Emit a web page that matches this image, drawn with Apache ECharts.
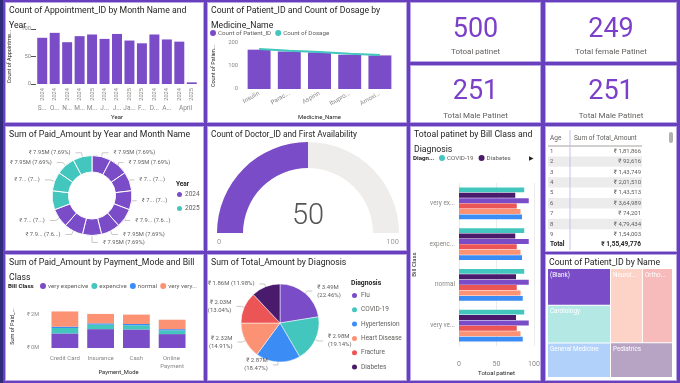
<!DOCTYPE html>
<html><head><meta charset="utf-8">
<script src="https://cdn.jsdelivr.net/npm/echarts@6/dist/echarts.min.js"></script>
<style>
html,body{margin:0;padding:0;width:680px;height:383px;overflow:hidden;background:#6840bd;}
.p{position:absolute;background:#fff;box-shadow:inset 0 0 0 1px #b9a6e4;}
</style></head><body>
<div style="position:absolute;left:0;top:0;width:3px;height:383px;background:#2f2c7c"></div>
<script>
// ---------- DATA ----------
const apptYears = ['2024','2024','2024','2024','2025','2024','2024','2025','2025','2024','2024','2024','2025'];
const apptCounts = [84,93,76,87,90,82,91,79,74,90,81,77,3];
const apptMonthLabels = ['S...','O...','N...','M...','M...','J...','J...','Ja...','F...','D...','A...','April'];
const apptMonthSpans = [1,1,1,1,1,1,1,1,1,1,1,2];

const medicines = ['Insulin','Paracetamol','Aspirin','Ibuprofen','Amoxicillin'];
const medPatients = [171,163,159,149,146];
const medDosage = [174,166,161,153,148];

const kpiValues = [500,249,251,251];
const kpiLabels = ['Totoal patinet','Total female Patinet','Total Male Patinet','Total Male Patinet'];

const paidMonths = ['September','October','November','March','June','July','December','August','April','May','January','February','April'];
const paidYears = ['2024','2024','2024','2024','2024','2024','2024','2024','2024','2025','2025','2025','2025'];
const paidAmounts = [7950000,7950000,7950000,7950000,7950000,7950000,7950000,7950000,7950000,7950000,7950000,7950000,7950000];

const doctorCount = 50;
const doctorMax = 100;

const billClasses = ['very expencive','expencive','normal','very very expencive'];
const diagOrder = ['COVID-19','Diabetes','Flu','Fracture','Heart Disease','Hypertension'];
const billCovid = [87,87,87,87];
const billDiabetes = [75,75,76,76];
const billFlu = [93,93,93,93];
const billFracture = [77,77,77,77];
const billHeart = [82,82,82,82];
const billHyper = [84,84,85,85];

const ages = ['1','2','3','4','5','6','7','8','9'];
const ageAmounts = [181866,92616,143749,201510,143513,364989,74201,479434,154003];
const ageTotal = 15549776;

const payModes = ['Credit Card','Insurance','Cash','Online Payment'];
const payClasses = ['very expencive','expencive','normal','very very expencive'];
const payVeryExp = [880000,1140000,1120000,840000];
const payExp = [330000,270000,250000,220000];
const payNormal = [80000,80000,80000,80000];
const payVeryVery = [920000,570000,570000,570000];

const diagNames = ['Flu','COVID-19','Hypertension','Heart Disease','Fracture','Diabetes'];
const diagAmounts = [3492480,2976227,2872044,2318472,2027691,1862863];

const deptNames = ['(Blank)','Cardiology','General Medicine','Neurology','Orthopedics','Pediatrics'];
const deptCounts = [85,87,80,87,82,79];

// ---------- STYLE ----------
const FONT = 'Roboto, "Noto Sans", sans-serif';
const PURPLE='#7a4cc7', TEAL='#43c6bd', BLUE='#3b8df5', SALMON='#fb9274', RED='#ec5555', DARK='#4a1a6c';
const TXT='#252423', SUB='#605e5c', AX='#8a8886';
const diagColor = {'COVID-19':TEAL,'Diabetes':DARK,'Flu':PURPLE,'Fracture':RED,'Heart Disease':SALMON,'Hypertension':BLUE};
const yearColor = {'2024':PURPLE,'2025':TEAL};
const numFmt = function(v){return String(v);};

function mk(x,y,w,h){const d=document.createElement('div');d.className='p';Object.assign(d.style,{left:x+'px',top:y+'px',width:w+'px',height:h+'px'});document.body.appendChild(d);return echarts.init(d,null,{width:w,height:h});}
function ttl(text,size){return {text:text,left:4,top:1,padding:0,textStyle:{fontFamily:FONT,fontSize:size||8.7,color:TXT,fontWeight:'normal',lineHeight:15}};}
function inr(n){const s=String(Math.round(n));if(s.length<=3)return s;const last3=s.slice(-3);let rest=s.slice(0,-3);const parts=[];while(rest.length>2){parts.unshift(rest.slice(-2));rest=rest.slice(0,-2);}if(rest)parts.unshift(rest);return parts.join(',')+','+last3;}
function mfmt(v){return (v/1e6).toFixed(2)+'M';}
function sum(a){let s=0;a.forEach(function(v){s+=v;});return s;}
const base = {animation:false,textStyle:{fontFamily:FONT}};

// ---------- P1 appointments ----------
(function(){
  const c = mk(5,2,199,121);
  const centers=[];let acc=0;apptMonthSpans.forEach(s=>{centers.push(acc+s/2);acc+=s;});
  c.setOption(Object.assign({},base,{
    title:ttl('Count of Appointment_ID by Month Name and\nYear'),
    grid:{left:31,right:6,top:27,bottom:39,outerBoundsMode:'none'},
    xAxis:[{type:'category',data:apptYears,axisLine:{show:false},axisTick:{show:false},
      axisLabel:{rotate:90,fontSize:5.7,color:AX,margin:4,interval:0},
      name:'Year',nameLocation:'middle',nameGap:30,nameMoveOverlap:false,nameTextStyle:{fontSize:6,color:TXT}},
     {type:'value',position:'bottom',offset:19,min:0,max:apptCounts.length,interval:0.5,
      axisLine:{show:false},axisTick:{show:false},splitLine:{show:false},
      axisLabel:{fontSize:6.5,color:AX,margin:2,showMinLabel:true,showMaxLabel:true,
        formatter:function(v){for(let i=0;i<centers.length;i++){if(Math.abs(centers[i]-v)<1e-6)return apptMonthLabels[i];}return '';}}}],
    yAxis:{type:'value',min:0,max:100,interval:50,splitLine:{show:false},axisLine:{show:false},
      axisLabel:{fontSize:5.8,color:AX,margin:5,showMinLabel:true,showMaxLabel:true,formatter:numFmt},
      name:'Count of Appointment_ID',nameLocation:'middle',nameGap:23,nameRotate:90,nameMoveOverlap:false,
      nameTruncate:{maxWidth:55,ellipsis:'...'},nameTextStyle:{fontSize:5.5,color:TXT}},
    series:[{type:'bar',data:apptCounts,barCategoryGap:'20%',itemStyle:{color:PURPLE}}]
  }));
})();

// ---------- P2 medicines ----------
(function(){
  const c = mk(207,2,200,121);
  c.setOption(Object.assign({},base,{
    title:ttl('Count of Patient_ID and Count of Dosage by\nMedicine_Name'),
    legend:{left:3,top:28,padding:0,icon:'circle',itemWidth:6,itemHeight:6,itemGap:4,
      textStyle:{fontSize:6.2,color:SUB,padding:[0,0,0,-3]},data:['Count of Patient_ID','Count of Dosage']},
    grid:{left:37,right:12,top:41,bottom:34,outerBoundsMode:'none'},
    xAxis:{type:'category',data:medicines,axisLine:{show:false},axisTick:{show:false},
      axisLabel:{rotate:30,fontSize:6.2,color:AX,margin:4,interval:0,width:24,overflow:'truncate',ellipsis:'...'},
      name:'Medicine_Name',nameLocation:'middle',nameGap:25,nameMoveOverlap:false,nameTextStyle:{fontSize:6,color:TXT}},
    yAxis:{type:'value',min:0,max:200,interval:100,splitLine:{show:false},
      axisLabel:{fontSize:5.8,color:AX,margin:6,showMinLabel:true,showMaxLabel:true,formatter:numFmt},
      name:'Count of Patient_ID',nameLocation:'middle',nameGap:27,nameRotate:90,nameMoveOverlap:false,
      nameTruncate:{maxWidth:44,ellipsis:'...'},nameTextStyle:{fontSize:5.5,color:TXT}},
    series:[
      {name:'Count of Patient_ID',type:'bar',data:medPatients,barCategoryGap:'24%',itemStyle:{color:PURPLE}},
      {name:'Count of Dosage',type:'line',data:medDosage,symbol:'none',lineStyle:{color:TEAL,width:2},itemStyle:{color:TEAL},z:5}
    ]
  }));
})();

// ---------- KPI cards ----------
(function(){
  const pos=[[410,2,131,60,15,46],[545,2,132,60,15,46],[410,65,131,58,14,47],[545,65,132,58,14,47]];
  pos.forEach(function(p,i){
    const c = mk(p[0],p[1],p[2],p[3]);
    c.setOption(Object.assign({},base,{
      title:[{text:String(kpiValues[i]),left:'center',top:p[4],padding:0,textStyle:{fontFamily:FONT,fontSize:27,color:'#7b3fc9',fontWeight:'normal'}},
             {text:kpiLabels[i],left:'center',top:p[5],padding:0,textStyle:{fontFamily:FONT,fontSize:8,color:SUB,fontWeight:'normal'}}]
    }));
  });
})();

// ---------- P3 donut ----------
(function(){
  const c = mk(5,126,199,125);
  const fit=[0,0,1,1,2,0,0,2,1,-1,1,0,0];
  const total=sum(paidAmounts);
  c.setOption(Object.assign({},base,{
    title:[ttl('Sum of Paid_Amount by Year and Month Name'),
      {text:'Year',left:171,top:55,padding:0,textStyle:{fontSize:6.5,color:TXT,fontWeight:'bold'}}],
    legend:{orient:'vertical',left:170,top:64,padding:0,icon:'circle',itemWidth:7,itemHeight:7,itemGap:5,
      data:['2024','2025'],textStyle:{fontSize:6.5,color:SUB,padding:[0,0,0,-3]}},
    series:[{type:'pie',center:[87,69.5],radius:[23.5,40],startAngle:90,clockwise:true,
      itemStyle:{borderColor:'#fff',borderWidth:1},
      labelLine:{length:4,length2:6,lineStyle:{color:'#b3b0ad',width:0.7}},
      label:{fontSize:5.8,color:SUB,overflow:'none',formatter:function(p){
        const v=mfmt(p.value),pc=(p.value/total*100).toFixed(2)+'%';const f=fit[p.dataIndex];
        if(f===1)return '₹ '+v.slice(0,1)+'... ('+pc.slice(0,1)+'...)';
        if(f===2)return '₹ '+v.slice(0,3)+'... ('+pc.slice(0,3)+'...)';
        return '₹ '+v+' ('+pc+')';}},
      data:paidAmounts.map(function(v,i){return {name:paidYears[i],value:v,month:paidMonths[i],
        itemStyle:{color:yearColor[paidYears[i]]},
        label:{show:fit[i]>=0},labelLine:{show:fit[i]>=0}};})
    }]
  }));
})();

// ---------- P4 gauge ----------
(function(){
  const c = mk(207,126,200,125);
  const common={type:'gauge',center:[101,107],radius:91,startAngle:180,endAngle:0,min:0,max:doctorMax,
      pointer:{show:false},anchor:{show:false},axisTick:{show:false},splitLine:{show:false,length:0,distance:0},title:{show:false}};
  c.setOption(Object.assign({},base,{
    title:ttl('Count of Doctor_ID and First Availability',8.3),
    series:[Object.assign({},common,{splitNumber:1,
      axisLine:{lineStyle:{width:26,color:[[1,'#efedeb']]}},
      progress:{show:true,width:26,itemStyle:{color:PURPLE}},
      axisLabel:{show:false},
      detail:{offsetCenter:[0,-16],fontSize:29,fontWeight:300,color:'#555',fontFamily:FONT,formatter:'{value}'},
      data:[{value:doctorCount}]}),
     Object.assign({},common,{z:10,splitNumber:2,
      axisLine:{show:false,lineStyle:{width:0}},progress:{show:false},
      axisLabel:{show:true,distance:0,fontSize:7.5,color:'#a19f9d',lineHeight:9,
        formatter:function(v){return (v===0||v===doctorMax)?'\n\n'+v:'';}},
      detail:{show:false},
      data:[{value:doctorCount}]})]
  }));
})();

// ---------- P5 bill class ----------
(function(){
  const c = mk(410,126,131,255);
  const vals=[billCovid,billDiabetes,billFlu,billFracture,billHeart,billHyper];
  c.setOption(Object.assign({},base,{
    title:[ttl('Totoal patinet by Bill Class and\nDiagnosis'),
      {text:'Diagn...',left:3,top:29.5,padding:0,textStyle:{fontSize:6.2,color:TXT,fontWeight:'bold'}},
      {text:'▶',left:119,top:29.5,padding:0,textStyle:{fontSize:6,color:TXT,fontWeight:'normal'}}],
    legend:{left:29,top:29,padding:0,icon:'circle',itemWidth:6,itemHeight:6,itemGap:5,
      textStyle:{fontSize:6.2,color:SUB,padding:[0,0,0,-3]},data:diagOrder.slice(0,2)},
    grid:{left:49,right:7,top:57,bottom:35,outerBoundsMode:'none'},
    xAxis:{type:'value',min:0,max:100,interval:50,axisLine:{show:false},
      splitLine:{show:true,lineStyle:{color:'#e6e6e6',width:0.8}},
      axisLabel:{show:true,fontSize:7,color:AX,margin:15,showMinLabel:true,showMaxLabel:true,formatter:numFmt},
      name:'Totoal patinet',nameLocation:'middle',nameGap:24,nameMoveOverlap:false,nameTextStyle:{fontSize:6,color:TXT}},
    yAxis:{type:'category',inverse:true,data:billClasses,axisLine:{show:false},axisTick:{show:false},
      axisLabel:{fontSize:6.4,color:AX,margin:4,width:27,overflow:'truncate',ellipsis:'...'},
      name:'Bill Class',nameLocation:'middle',nameGap:42,nameRotate:90,nameMoveOverlap:false,nameTextStyle:{fontSize:6,color:TXT}},
    series:diagOrder.map(function(d,i){return {name:d,type:'bar',data:vals[i],barGap:'10%',barCategoryGap:'22%',itemStyle:{color:diagColor[d]}};})
  }));
})();

// ---------- P6 table ----------
(function(){
  const c = mk(545,126,132,126);
  const rows = ages.concat(['Total']);
  const amts = ageAmounts.concat([ageTotal]);
  const dividerAt = 0.234;
  c.setOption(Object.assign({},base,{
    grid:{left:3,right:35,top:20,bottom:2,outerBoundsMode:'none'},
    xAxis:{type:'value',min:0,max:1,show:false},
    yAxis:{type:'category',inverse:true,data:rows,show:false},
    graphic:[{type:'rect',right:4,top:6,shape:{width:4,height:11,r:2},style:{fill:'#b3b0ad'}}],
    series:[{type:'custom',clip:false,encode:{x:0,y:1},
      data:rows.map(function(r,i){return [0.5,i,amts[i]];}),
      renderItem:function(params,api){
        const i=params.dataIndex;const c0=api.coord([0,i]);const c1=api.coord([1,i]);const cd=api.coord([dividerAt,i]);
        const bh=api.size([0,1])[1];const y=c0[1];const isTot=rows[i]==='Total';
        const ch=[];
        if(i%2===1&&!isTot)ch.push({type:'rect',shape:{x:c0[0],y:y-bh/2,width:c1[0]-c0[0],height:bh},style:{fill:'#ececec'}});
        let top=y-bh/2;
        if(i===0){
          const hy=y-bh*1.27;top=hy-bh*0.75;
          ch.push({type:'text',style:{text:'Age',x:c0[0]+2,y:hy,align:'left',verticalAlign:'middle',fontSize:6.5,fill:SUB,fontFamily:FONT}});
          ch.push({type:'text',style:{text:'Sum of Total_Amount',x:cd[0]+4,y:hy,align:'left',verticalAlign:'middle',fontSize:6.5,fill:SUB,fontFamily:FONT}});
          ch.push({type:'line',shape:{x1:c0[0],y1:y-bh/2,x2:c1[0],y2:y-bh/2},style:{stroke:'#8a8886',lineWidth:0.8}});
        }
        ch.push({type:'line',shape:{x1:cd[0],y1:top,x2:cd[0],y2:y+bh/2},style:{stroke:'#c9bde9',lineWidth:1}});
        ch.push({type:'text',style:{text:rows[i],x:c0[0]+2,y:y,align:'left',verticalAlign:'middle',fontSize:isTot?6.5:6,fontWeight:isTot?'bold':'normal',fill:isTot?TXT:SUB,fontFamily:FONT}});
        ch.push({type:'text',style:{text:'₹ '+inr(api.value(2)),x:c1[0]-1,y:y,align:'right',verticalAlign:'middle',fontSize:isTot?6.5:6,fontWeight:isTot?'bold':'normal',fill:isTot?TXT:SUB,fontFamily:FONT}});
        return {type:'group',children:ch};
      }}]
  }));
})();

// ---------- P7 payment stacked ----------
(function(){
  const c = mk(5,254,199,127);
  const vals=[payVeryExp,payExp,payNormal,payVeryVery];
  const cols=[PURPLE,TEAL,BLUE,SALMON];
  c.setOption(Object.assign({},base,{
    title:[ttl('Sum of Paid_Amount by Payment_Mode and Bill\nClass'),
      {text:'Bill Class',left:3,top:29.5,padding:0,textStyle:{fontSize:6.2,color:TXT,fontWeight:'bold'}}],
    legend:{left:35,top:29,padding:0,icon:'circle',itemWidth:6,itemHeight:6,itemGap:3,
      textStyle:{fontSize:6.2,color:SUB,padding:[0,0,0,-3]},
      data:payClasses.map(function(n,i){return i===3?{name:n,textStyle:{width:34,overflow:'truncate',ellipsis:'...'}}:{name:n};})},
    grid:{left:42,right:14,top:51,bottom:33,outerBoundsMode:'none'},
    xAxis:{type:'category',data:payModes,axisLine:{show:false},axisTick:{show:false},
      axisLabel:{fontSize:6,color:AX,margin:6,interval:0,width:40,overflow:'break',lineHeight:8},
      name:'Payment_Mode',nameLocation:'middle',nameGap:22,nameMoveOverlap:false,nameTextStyle:{fontSize:5.8,color:TXT}},
    yAxis:{type:'value',min:0,max:2600000,interval:2000000,splitLine:{show:false},
      axisLabel:{fontSize:5.5,color:AX,margin:8,showMaxLabel:false,formatter:function(v){return '₹ '+(v/1e6)+'M';}},
      name:'Sum of Paid_Amount',nameLocation:'middle',nameGap:31,nameRotate:90,nameMoveOverlap:false,
      nameTruncate:{maxWidth:42,ellipsis:'...'},nameTextStyle:{fontSize:5.5,color:TXT}},
    series:payClasses.map(function(n,i){return {name:n,type:'bar',stack:'a',data:vals[i],barCategoryGap:'25%',itemStyle:{color:cols[i]}};})
  }));
})();

// ---------- P8 diagnosis pie ----------
(function(){
  const c = mk(207,254,200,127);
  const total=sum(diagAmounts);
  c.setOption(Object.assign({},base,{
    title:[ttl('Sum of Total_Amount by Diagnosis'),
      {text:'Diagnosis',left:144,top:26,padding:0,textStyle:{fontSize:6.8,color:TXT,fontWeight:'bold'}}],
    legend:{orient:'vertical',left:143,top:37,padding:0,icon:'circle',itemWidth:7,itemHeight:7,itemGap:5.3,
      textStyle:{fontSize:6.5,color:SUB,padding:[0,0,0,-2]},data:diagNames},
    series:[{type:'pie',center:[73,69],radius:39,startAngle:90,clockwise:true,
      itemStyle:{borderColor:'#fff',borderWidth:0.5},
      labelLine:{length:3,length2:5,lineStyle:{color:'#b3b0ad',width:0.7}},
      label:{fontSize:6,color:SUB,lineHeight:8,overflow:'none',edgeDistance:0,formatter:function(p){
        const s='₹ '+mfmt(p.value);const q='('+(p.value/total*100).toFixed(2)+'%)';
        return p.name==='Diabetes'?s+' '+q:s+'\n'+q;}},
      data:diagNames.map(function(n,i){return {name:n,value:diagAmounts[i],itemStyle:{color:diagColor[n]}};})
    }]
  }));
})();

// ---------- P9 treemap ----------
(function(){
  const c = mk(545,254,132,127);
  const tcol=[PURPLE,'rgba(67,198,189,0.4)','rgba(59,141,245,0.4)','rgba(251,146,116,0.4)','rgba(236,85,85,0.4)','rgba(74,26,108,0.4)'];
  c.setOption(Object.assign({},base,{
    title:ttl('Count of Patient_ID by Name'),
    series:[{type:'treemap',left:3,top:15,right:5,bottom:4,roam:false,nodeClick:false,sort:false,
      breadcrumb:{show:false},
      itemStyle:{borderColor:'#fff',borderWidth:0,gapWidth:1},
      levels:[{itemStyle:{borderWidth:0,gapWidth:1}}],
      label:{show:true,position:'insideTopLeft',fontSize:6.3,color:'#fff',overflow:'truncate',ellipsis:'...',padding:[3,2,0,2]},
      data:deptNames.map(function(n,i){return {name:n,value:deptCounts[i],itemStyle:{color:tcol[i]}};})
    }]
  }));
})();
</script>
</body></html>
